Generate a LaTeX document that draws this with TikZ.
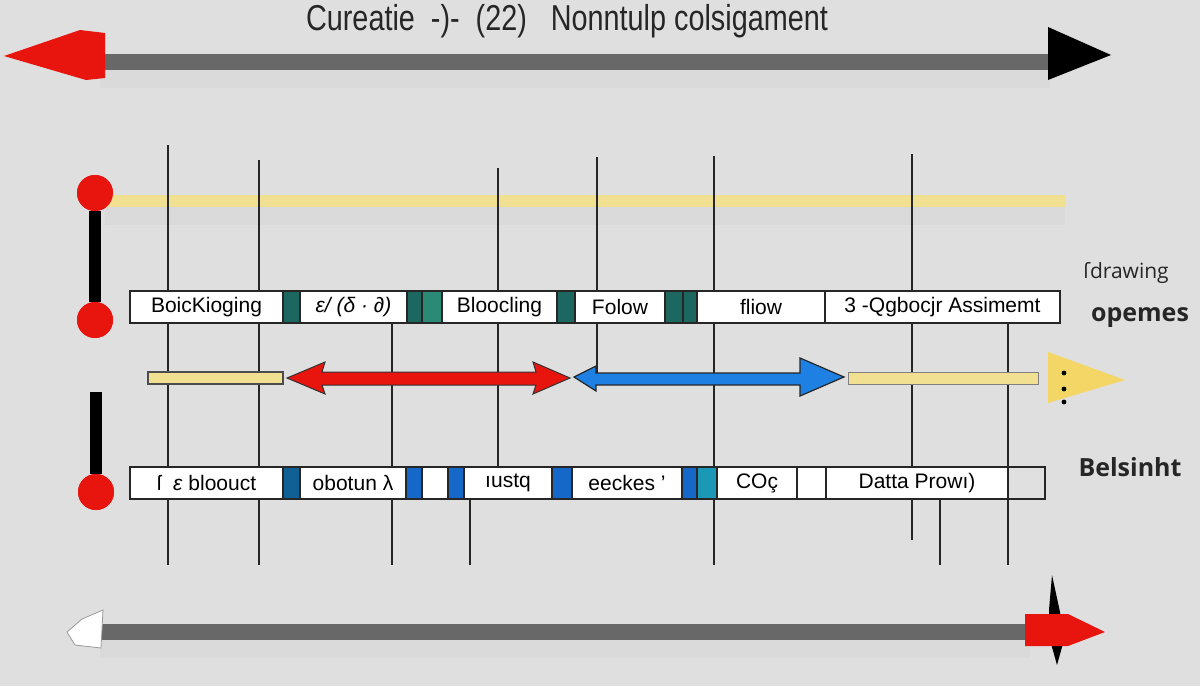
\documentclass[tikz,border=0pt]{standalone}
\usepackage{fontspec}
\setmainfont{Liberation Sans}
\newfontfamily\titlefont[FakeStretch=0.8]{Liberation Sans}
\newfontfamily\sidefont{Open Sans}
\usetikzlibrary{shapes}

\definecolor{bggray}{RGB}{223,223,223}
\definecolor{bargray}{RGB}{104,104,104}
\definecolor{arred}{RGB}{232,20,14}
\definecolor{arblue}{RGB}{30,128,226}
\definecolor{paleyel}{RGB}{241,224,146}
\definecolor{triyel}{RGB}{244,214,102}
\definecolor{tealbox}{RGB}{28,104,96}
\definecolor{tealmid}{RGB}{42,138,118}
\definecolor{bluebox}{RGB}{22,104,200}
\definecolor{bluedark}{RGB}{16,96,150}
\definecolor{cyanbox}{RGB}{26,152,182}

\tikzset{
  cell/.style={draw=black!85, fill=white, line width=1pt, minimum height=16pt,
    inner sep=0pt, font=\fontsize{10.5}{12}\selectfont},
  strip/.style={cell, font=\relax},
  vline/.style={black!85, line width=0.7pt},
  post/.style={black, line width=6pt},
  dot/.style={circle, fill=arred, minimum size=18pt, inner sep=0pt},
  bar/.style={bargray, line width=8pt},
  shade/.style={black, opacity=0.02, line width=14pt}
}

\begin{document}
\begin{tikzpicture}[x=0.5pt,y=-0.5pt]
\useasboundingbox (0,0) rectangle (1200,686);
\fill[bggray] (0,0) rectangle (1200,686);
%-------->title<--------------
\node[font=\titlefont\fontsize{18}{20}\selectfont, text=black!85] (title) at (567,21)
  {Cureatie \ -)- \ (22) \ \ Nonntulp colsigament};
%-------->top arrow<--------------
\coordinate (ta) at (100,62);
\coordinate (tb) at (1050,62);
\draw[shade] ([yshift=-6pt]ta) -- ([yshift=-6pt]tb);
\draw[bar] (ta) -- (tb);
\fill[arred] (4,56) -- (80,30) -- (105,33) -- (105,78) -- (86,80) -- cycle;
\fill[black] (1048,27) -- (1111,55) -- (1048,80) -- cycle;
%-------->yellow line on top<--------------
\node[dot] (p1) at (95,193) {};
\node[dot] (p2) at (95,320) {};
\coordinate (ya) at (105,201);
\coordinate (yb) at (1065,201);
\draw[shade] ([yshift=-5pt]ya) -- ([yshift=-5pt]yb);
\draw[paleyel, line width=6pt] (ya) -- (yb);
%-------->vertical lines<--------------
\foreach \vx/\vt/\vb in {168/145/565, 259/160/565, 392/323/565, 498/168/468,
  470/499/565, 597/157/373, 714/156/565, 912/154/540, 940/499/565, 1008/323/565}
  \draw[vline] (\vx,\vt) -- (\vx,\vb);
%-------->posts with red ends<--------------
\draw[post] (p1) -- (p2);
\node[dot] at (p1) {};
\node[dot] at (p2) {};
\coordinate (q0) at (96,392);
\node[dot] (p3) at (96,492) {};
\draw[post] (q0) -- (p3);
\node[dot] at (p3) {};
%-------->first row of cells<--------------
\node[cell, minimum width=76.5pt] (b1) at (206.5,307) {BoicKioging};
\node[strip, fill=tealbox, minimum width=8.5pt] (t1) at (291.5,307) {};
\node[cell, minimum width=53.5pt] (b2) at (353.5,307) {\textit{ε/ (δ · ∂)}};
\node[strip, fill=tealbox, minimum width=7.5pt] (t2) at (414.5,307) {};
\node[strip, fill=tealmid, minimum width=10pt] (t3) at (432,307) {};
\node[cell, minimum width=57.5pt] (b3) at (499.5,307) {Bloocling};
\node[strip, fill=tealbox, minimum width=9pt] (t4) at (566,307) {};
\node[cell, minimum width=45pt] (b4) at (620,307) {Folow};
\node[strip, fill=tealbox, minimum width=9pt] (t5) at (674,307) {};
\node[strip, fill=tealbox, minimum width=7pt] (t6) at (690,307) {};
\node[cell, minimum width=64pt] (b5) at (761,307) {fliow};
\node[cell, minimum width=117.5pt] (b6) at (942.5,307) {3 -Qgbocjr Assimemt};
%-------->middle arrows<--------------
\draw[fill=paleyel, draw=black!70, line width=0.6pt] (148,372) rectangle (283,384);
\draw[fill=paleyel, draw=black!50, line width=0.4pt] (848,372) rectangle (1038,384);
\draw[fill=arred, draw=black!80, line width=0.5pt] (287,378) -- (325,362) -- (322,372)
  -- (536,372) -- (533,362) -- (570,378) -- (533,394) -- (536,385) -- (322,385)
  -- (325,394) -- cycle;
\draw[fill=arblue, draw=black!85, line width=0.6pt] (574,377) -- (596,366) -- (596,373)
  -- (800,373) -- (800,358) -- (844,377) -- (800,396) -- (800,385) -- (596,385)
  -- (596,391) -- cycle;
\fill[triyel] (1048,352) -- (1125,380) -- (1048,403) -- cycle;
\foreach \dy in {373,389,402}
  \fill[black] (1064,\dy) circle (1.2pt);
%-------->second row of cells<--------------
\node[cell, minimum width=76.5pt] (c1) at (206.5,483) {ſ \ \textit{ε} bloouct};
\node[strip, fill=bluedark, minimum width=8.5pt] (u1) at (291.5,483) {};
\node[cell, minimum width=53pt] (c2) at (353,483) {obotun λ};
\node[strip, fill=bluebox, minimum width=8pt] (u2) at (414,483) {};
\node[strip, minimum width=13pt] (u3) at (435,483) {};
\node[strip, fill=bluebox, minimum width=8pt] (u4) at (456,483) {};
\node[cell, minimum width=44pt] (c3) at (508,483) {ıustq};
\node[strip, fill=bluebox, minimum width=10pt] (u5) at (562,483) {};
\node[cell, minimum width=55pt] (c4) at (627,483) {eeckes '};
\node[strip, fill=bluebox, minimum width=7.5pt] (u6) at (689.5,483) {};
\node[strip, fill=cyanbox, minimum width=10pt] (u7) at (707,483) {};
\node[cell, minimum width=40pt] (c5) at (757,483) {COç};
\node[strip, minimum width=14.5pt] (u8) at (811.5,483) {};
\node[cell, minimum width=91pt] (c6) at (917,483) {Datta Prowı)};
\node[strip, fill=black!12, minimum width=18.5pt] (u9) at (1026.5,483) {};
%-------->side labels<--------------
\node[font=\sidefont\fontsize{10.5}{12}\selectfont, text=black!85] (l1) at (1126,273) {ſdrawing};
\node[font=\sidefont\bfseries\fontsize{12.5}{14}\selectfont, text=black!85] (l2) at (1140,318) {opemes};
\node[font=\sidefont\bfseries\fontsize{12.5}{14}\selectfont, text=black!85] (l3) at (1130,467) {Belsinht};
%-------->bottom arrow<--------------
\coordinate (ba) at (100,632);
\coordinate (bb) at (1030,632);
\draw[shade] ([yshift=-6pt]ba) -- ([yshift=-6pt]bb);
\draw[bar] (ba) -- (bb);
\draw[fill=white, draw=black!40, line width=0.4pt] (103,610) -- (82,619) -- (67,632)
  -- (75,645) -- (101,648) -- cycle;
\fill[black] (1052,575) -- (1060,612) -- (1064,640) -- (1057,665) -- (1050,640)
  -- (1049,610) -- cycle;
\fill[arred] (1025,614) -- (1068,614) -- (1105,632) -- (1068,646) -- (1025,646) -- cycle;
\end{tikzpicture}
\end{document}
